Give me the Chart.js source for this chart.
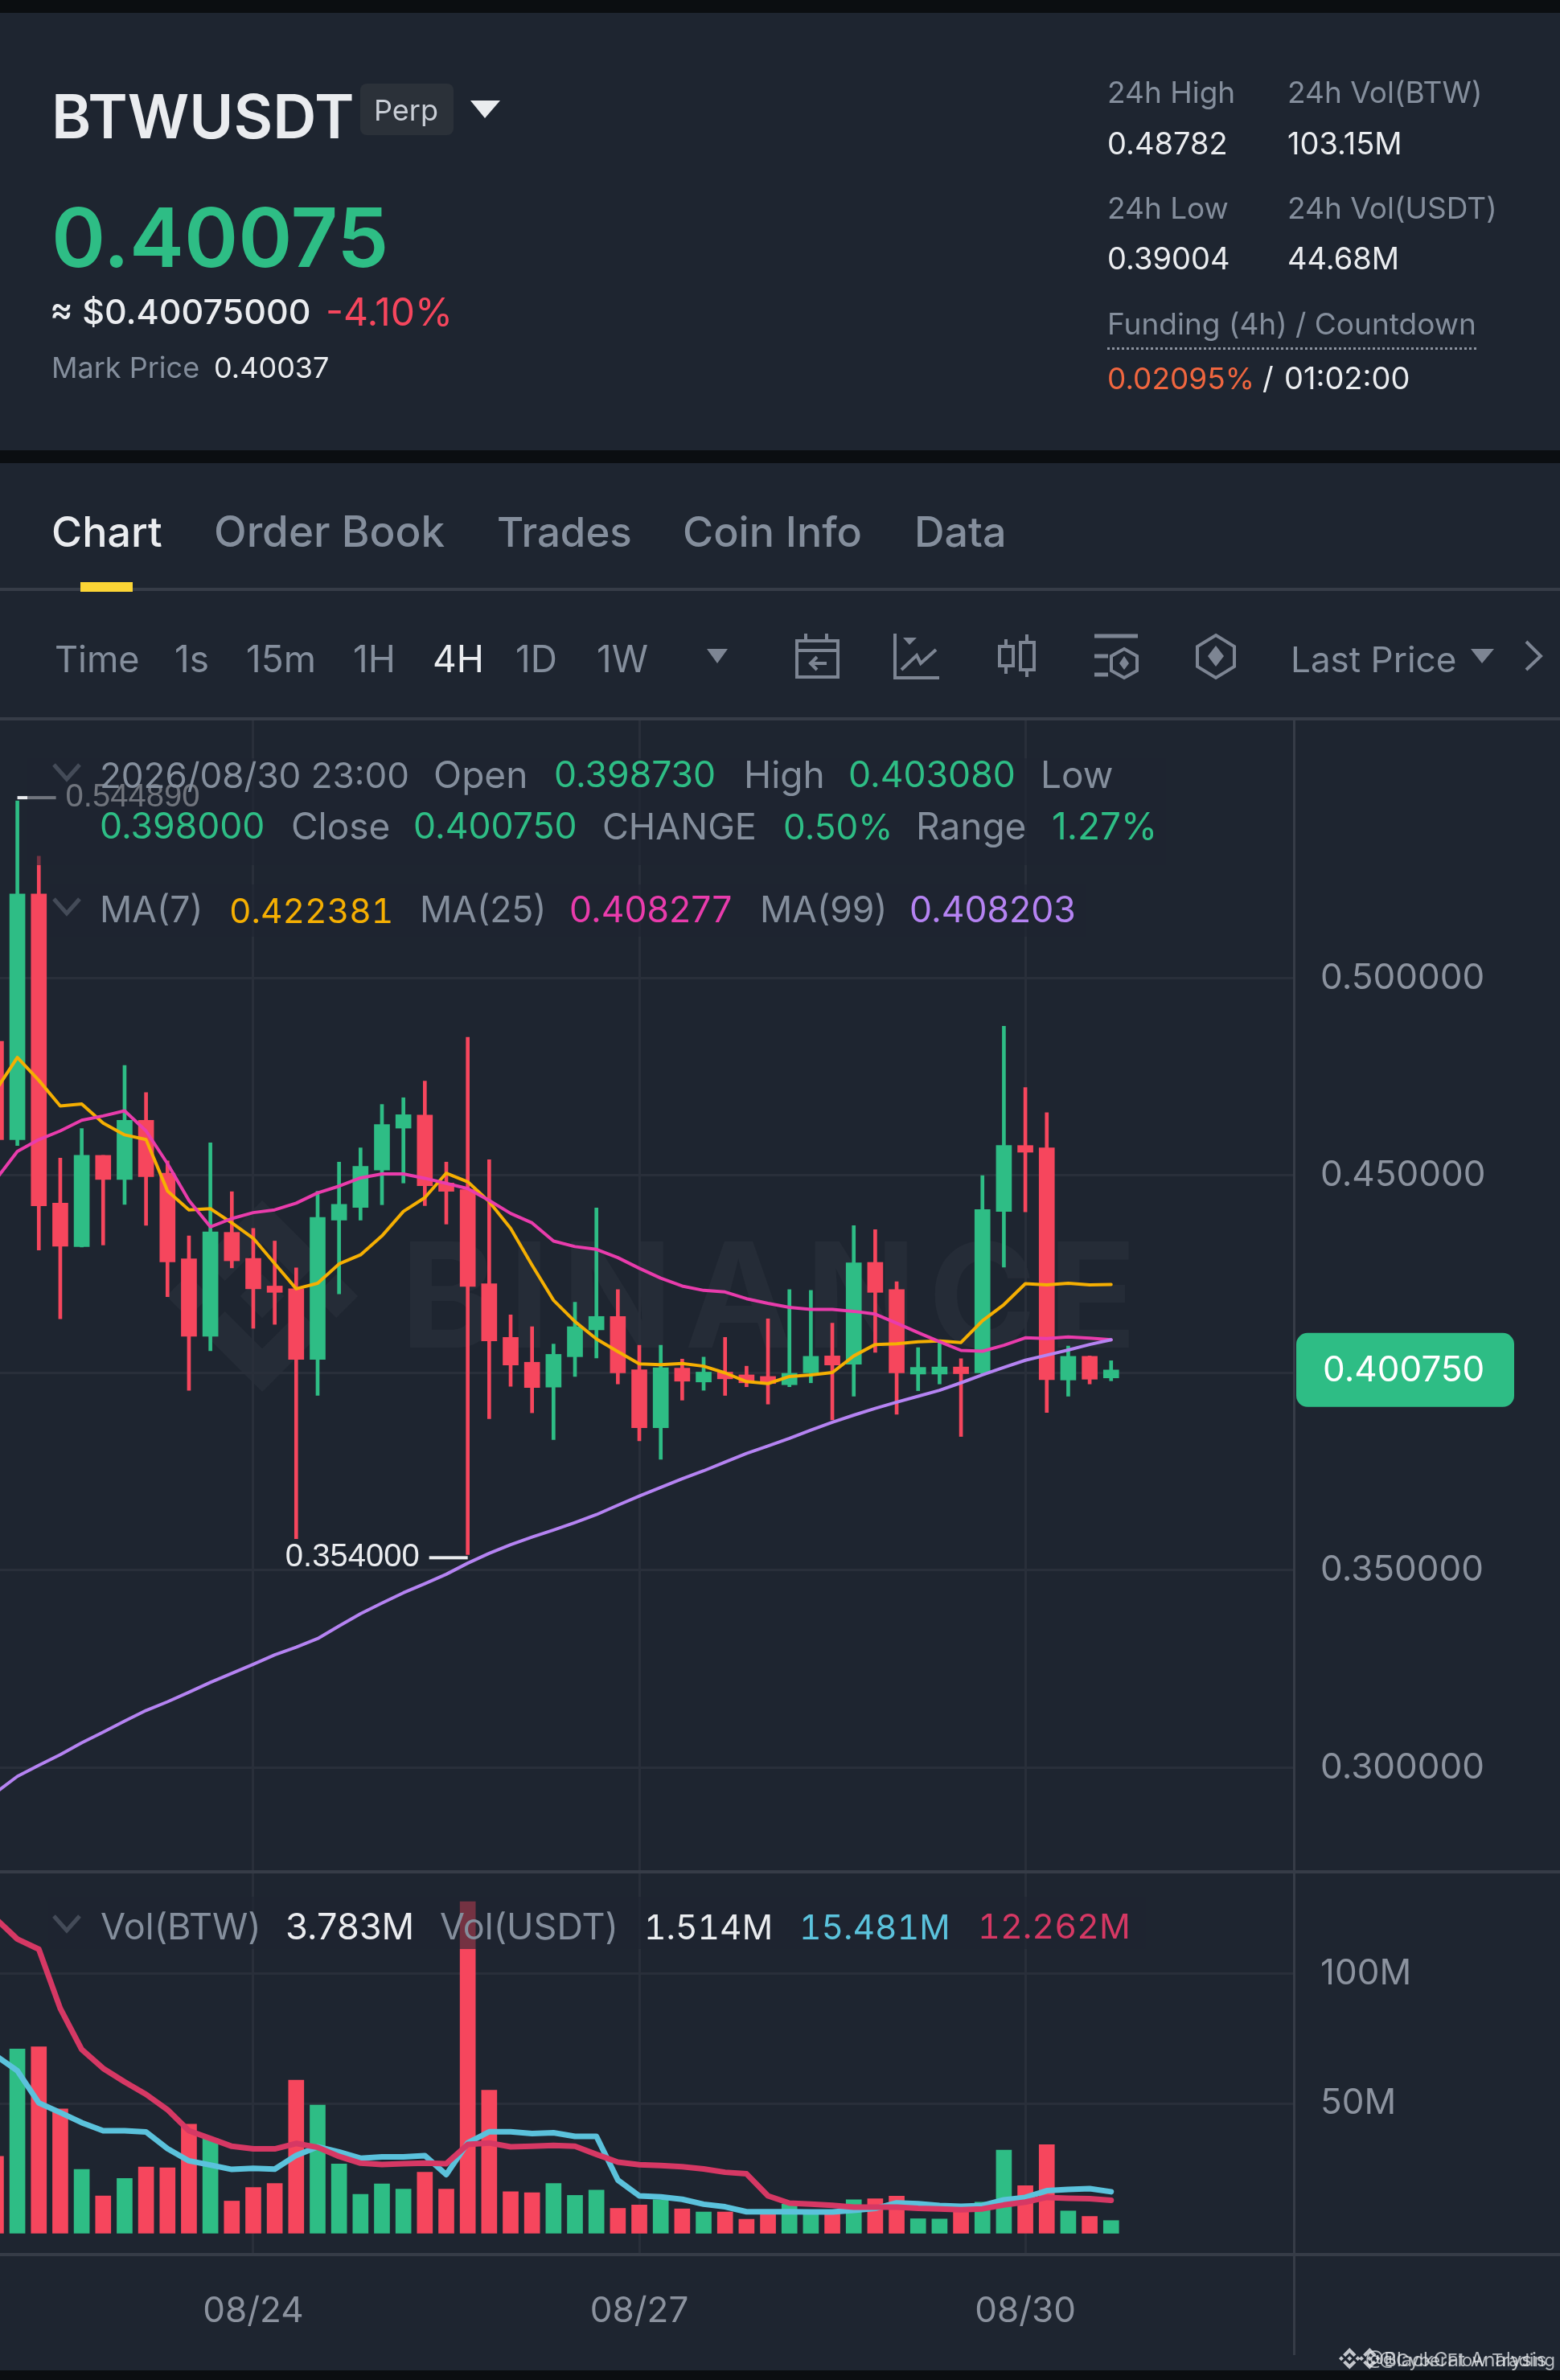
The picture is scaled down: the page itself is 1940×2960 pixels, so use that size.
<!DOCTYPE html>
<html>
<head>
<meta charset="utf-8">
<title>BTWUSDT</title>
<script src="https://cdn.jsdelivr.net/npm/chart.js@4"></script>
<style>
  html, body { margin: 0; padding: 0; background: #1e2530; }
  body { position: relative; width: 1940px; height: 2960px; overflow: hidden; font-family: Inter, "Noto Sans", sans-serif; }
  .t { position: absolute; white-space: pre; transform: translateY(-50%); line-height: 1.2; }
  .bar { position: absolute; }
  #chartWrap { position: absolute; left: 0; top: 894px; width: 1940px; height: 2054px; z-index: 2; }
  #overlay { position: absolute; left: 0; top: 0; z-index: 3; }
  #mark { position: absolute; left: 0; top: 0; z-index: 1; }
</style>
</head>
<body>
<svg id="mark" width="1940" height="2960">
  <defs>
    <path id="logo" d="M38.73 53.2l24.59-24.58 24.6 24.6 14.3-14.31L63.32 0 24.43 38.9zM0 63.31l14.3-14.31 14.31 14.31-14.31 14.3zM38.73 73.41L63.32 98l24.6-24.6 14.31 14.29-38.9 38.91-38.91-38.88zM98 63.31l14.3-14.31 14.31 14.3-14.31 14.32zM77.83 63.3L63.32 48.78 52.59 59.51l-1.24 1.23-2.54 2.54 14.51 14.5 14.51-14.47z"/>
  </defs>
  <use href="#logo" transform="translate(207 1493) scale(1.88)" fill="#ffffff" fill-opacity="0.035"/>
</svg>
<div id="chartWrap"><canvas id="chart" width="1940" height="2054"></canvas></div>
<svg id="overlay" width="1940" height="2960">
  <g fill="#7d8593" stroke="none">
    <polygon points="585,125 622,125 603,147" fill="#eaecef"/>
    <polygon points="879,807 905,807 892,825"/>
    <polygon points="1829,807 1858,807 1843,825"/>
    <polygon points="1123,793 1140,793 1131,802"/>
    <polygon points="1512,829 1502,816 1512,803 1522,816"/>
    <polygon points="1398,833 1392,825 1398,816 1404,825"/>
  </g>
  <g fill="none" stroke="#7d8593" stroke-width="4">
    <rect x="991" y="797" width="51" height="45"/>
    <path d="M991 809H1042M1002 788V797M1028 788V797M1028 825H1008M1016 817L1008 825L1016 833"/>
    <path d="M1113 788V843H1168M1121 833L1140 815L1145 825L1164 808"/>
    <rect x="1243" y="804" width="17" height="24"/>
    <rect x="1269" y="799" width="17" height="34"/>
    <path d="M1251 795V804M1251 828V838M1277 789V799M1277 833V842"/>
    <path d="M1361 791H1415M1361 816H1378M1361 839H1378" stroke-width="5"/>
    <polygon points="1398,807 1414,816 1414,834 1398,843 1382,834 1382,816"/>
    <polygon points="1512,790 1535,804 1535,829 1512,843 1489,829 1489,804"/>
    <path d="M1898 798L1916 816L1898 833"/>
    <path d="M67 951L83 969L99 951M67 1118L83 1136L99 1118M67 2383L83 2401L99 2383" stroke="#7d8593" stroke-width="5"/>
  </g>
  <g fill="#dfe2e6" fill-opacity="0.85">
    <use href="#logo" transform="translate(1665 2920) scale(0.21)"/>
    <use href="#logo" transform="translate(1690 2920) scale(0.21)"/>
  </g>
</svg>
<script>
// Candles, oldest first. The first one is cut by the left edge of the chart
const firstIndex = -1;
const opens = [0.4840,0.4591,0.5213,0.4430,0.4320,0.4551,0.4490,0.4640,0.4506,0.4289,0.4093,0.4356,0.4290,0.4220,0.4213,0.4034,0.4387,0.4419,0.4514,0.4620,0.4653,0.4481,0.4464,0.4226,0.4090,0.4027,0.3964,0.4041,0.4109,0.4143,0.4008,0.3861,0.4012,0.3977,0.4002,0.3995,0.3991,0.3970,0.4000,0.4043,0.4022,0.4280,0.4211,0.3997,0.3997,0.4015,0.4000,0.4409,0.4576,0.4570,0.3982,0.4042,0.39873];
const highs = [0.4900,0.54489,0.5309,0.4544,0.4619,0.4551,0.4779,0.4710,0.4537,0.4347,0.4583,0.4459,0.4366,0.4334,0.4266,0.4460,0.4534,0.4570,0.4680,0.4697,0.4739,0.4534,0.4850,0.4540,0.4147,0.4117,0.4073,0.4179,0.4418,0.4211,0.4070,0.4070,0.4035,0.4040,0.4090,0.4017,0.4137,0.4211,0.4209,0.4126,0.4373,0.4363,0.4231,0.4064,0.4079,0.4036,0.4500,0.4878,0.4723,0.4659,0.4068,0.4043,0.40308];
const lows = [0.4500,0.4576,0.4311,0.4137,0.4319,0.4324,0.4427,0.4374,0.4193,0.3956,0.4056,0.4266,0.4113,0.4123,0.3580,0.3943,0.4200,0.4387,0.4426,0.4481,0.4424,0.4377,0.3540,0.3884,0.3966,0.3899,0.3831,0.3991,0.4038,0.3972,0.3828,0.3781,0.3931,0.3956,0.3943,0.3965,0.3921,0.3965,0.3975,0.3881,0.3941,0.4052,0.3895,0.3955,0.3972,0.3839,0.3997,0.4268,0.4408,0.3900,0.3941,0.3972,0.3980];
const closes = [0.4591,0.5213,0.4423,0.4321,0.4551,0.4490,0.4640,0.4497,0.4281,0.4093,0.4357,0.4284,0.4213,0.4204,0.4034,0.4394,0.4427,0.4523,0.4629,0.4654,0.4474,0.4460,0.4219,0.4081,0.4020,0.3963,0.4047,0.4117,0.4143,0.4000,0.3861,0.4013,0.3979,0.4002,0.3985,0.3975,0.3973,0.3999,0.4042,0.4020,0.4279,0.4204,0.4000,0.4014,0.4015,0.3998,0.4414,0.4576,0.4559,0.3983,0.4042,0.3984,0.40075];

const ma7 = [0.4716,0.4799,0.4741,0.4676,0.4681,0.4633,0.4603,0.4591,0.4461,0.4413,0.4416,0.4380,0.4341,0.4277,0.4213,0.4227,0.4276,0.4299,0.4347,0.4409,0.4444,0.4506,0.4484,0.4434,0.4366,0.4273,0.4184,0.4130,0.4086,0.4054,0.4023,0.4021,0.4024,0.4017,0.4000,0.3978,0.3973,0.3991,0.3995,0.4001,0.4043,0.4072,0.4074,0.4079,0.4081,0.4077,0.4132,0.4173,0.4226,0.4223,0.4227,0.4223,0.4224];
const ma25 = [0.4490,0.4561,0.4591,0.4613,0.4640,0.4651,0.4664,0.4613,0.4530,0.4437,0.4370,0.4391,0.4406,0.4413,0.4430,0.4456,0.4473,0.4494,0.4504,0.4504,0.4493,0.4480,0.4467,0.4437,0.4404,0.4380,0.4334,0.4320,0.4313,0.4292,0.4265,0.4240,0.4220,0.4209,0.4205,0.4188,0.4176,0.4166,0.4161,0.4161,0.4156,0.4149,0.4126,0.4102,0.4079,0.4057,0.4055,0.4070,0.4089,0.4087,0.4091,0.4088,0.4084];
const ma99 = [0.2937,0.2978,0.3006,0.3033,0.3063,0.3090,0.3118,0.3145,0.3167,0.3191,0.3216,0.3239,0.3262,0.3286,0.3305,0.3327,0.3359,0.3390,0.3417,0.3443,0.3466,0.3490,0.3518,0.3543,0.3565,0.3584,0.3602,0.3621,0.3641,0.3665,0.3688,0.3710,0.3732,0.3752,0.3774,0.3796,0.3815,0.3834,0.3855,0.3875,0.3893,0.3910,0.3926,0.3941,0.3956,0.3975,0.3995,0.4014,0.4032,0.4045,0.4058,0.4072,0.4084];

// Volume in millions
const volumes = [29.6,71.0,71.8,47.9,24.6,14.4,21.1,25.5,25.2,42.0,36.5,12.4,17.6,19.2,59.0,49.4,26.7,15.0,19.0,17.0,23.5,17.0,127.7,55.1,16.0,15.6,19.2,14.6,16.6,9.6,10.9,12.9,9.4,8.2,8.2,5.4,7.2,11.2,8.0,8.0,12.9,13.3,14.3,5.6,5.5,8.5,12.0,32.0,18.3,34.1,8.6,6.5,4.9];
const volShort = [68.4,62.6,50.2,46.5,42.6,39.5,39.5,39.0,32.6,27.9,26.3,24.6,25.0,24.7,30.0,33.3,31.3,28.9,29.4,29.4,29.9,22.6,34.8,39.1,39.1,38.4,38.7,37.3,37.3,20.5,14.4,14.0,13.1,11.2,10.2,8.3,8.3,8.3,8.2,8.2,8.8,9.6,11.7,11.4,10.7,10.4,10.7,12.9,13.8,16.4,16.9,17.2,16.0];
const volLong = [121.1,113.3,109.4,86.6,70.8,63.5,58.3,53.5,47.6,39.5,36.5,33.5,32.5,32.5,34.6,33.1,29.6,27.0,26.5,26.8,27.0,26.8,34.2,34.8,33.3,33.5,33.8,33.5,30.4,27.4,26.4,26.1,25.6,24.8,23.5,22.9,14.4,11.6,11.2,10.8,10.1,10.1,10.1,9.6,9.4,9.1,9.4,10.9,12.0,13.8,13.5,13.3,12.7];

// Axes
const dateTicks = [11, 29, 47];
const dateLabels = ["08/24", "08/27", "08/30"];
const priceTicks = [0.3, 0.35, 0.4, 0.45, 0.5];
const volTicks = [50, 100];
const lastPrice = 0.40075;

const GREEN = "#2ebd85", RED = "#f6465d", GRID = "#292f3a", AXIS_TEXT = "#8b929e", LINE = "#363c47";
const WHITE = "#eaecef", GREY = "#848e9c", ORANGE = "#f5af02", PINK = "#e93cac", PURPLE = "#b583f2";

// Text helper, y is the middle of the capitals
function txt(str, x, y, size, color, weight) {
  const d = document.createElement("div");
  d.className = "t";
  d.textContent = str;
  d.style.cssText = `left:${x}px;top:${y}px;font-size:${size}px;color:${color};font-weight:${weight || 400};z-index:5`;
  document.body.appendChild(d);
  return d;
}
// Same, with a full width "1" as in the original font
function wideOnes(str, x, y, size, color) {
  txt(str, x, y, size, color).style.fontVariantNumeric = "tabular-nums";
}
function box(x, y, w, h, color, radius, z) {
  const d = document.createElement("div");
  d.className = "bar";
  d.style.cssText = `left:${x}px;top:${y}px;width:${w}px;height:${h}px;background:${color};border-radius:${radius || 0}px;z-index:${z || 4}`;
  document.body.appendChild(d);
  return d;
}

// Black bands and separators
box(0, 0, 1940, 16, "#0b0e11");
box(0, 560, 1940, 16, "#0b0e11");
box(0, 2948, 1940, 12, "#0b0e11");
box(0, 731, 1940, 4, LINE);
box(100, 724, 65, 12, "#fcd535");
box(0, 892, 1940, 4, LINE);
box(0, 2326, 1940, 4, LINE);
box(0, 2802, 1940, 4, LINE);
box(1608, 894, 3, 2035, LINE);

// Header
txt("BTWUSDT", 64, 145, 75, WHITE, 600);
box(448, 104, 116, 64, "#2b3139", 8);
txt("Perp", 465, 138, 36, "#c9ced6");
txt("0.40075", 64, 295, 102, GREEN, 600);
txt("≈ $0.40075000", 62, 388, 43, WHITE, 500);
txt("-4.10%", 405, 388, 48, RED);
txt("Mark Price", 64, 458, 36, GREY);
txt("0.40037", 266, 458, 36, WHITE);

txt("24h High", 1377, 115, 37, GREY);
txt("24h Vol(BTW)", 1601, 115, 37, GREY);
txt("0.48782", 1377, 179, 38, WHITE);
txt("103.15M", 1601, 179, 38, WHITE);
txt("24h Low", 1377, 259, 37, GREY);
txt("24h Vol(USDT)", 1601, 259, 37, GREY);
txt("0.39004", 1377, 322, 38, WHITE);
txt("44.68M", 1601, 322, 38, WHITE);
txt("Funding (4h) / Countdown", 1377, 403, 37, GREY);
box(1377, 432, 459, 0, "transparent").style.borderTop = "3px dotted #8b929e";
txt("0.02095%", 1377, 471, 37, "#f0663f");
txt("/", 1570, 471, 38, WHITE);
txt("01:02:00", 1597, 471, 38, WHITE);

// Tabs and toolbar
txt("Chart", 64, 662, 52, WHITE, 500);
txt("Order Book", 266, 662, 53, GREY, 500);
txt("Trades", 618, 662, 51, GREY, 500);
txt("Coin Info", 849, 662, 52, GREY, 500);
txt("Data", 1137, 662, 52, GREY, 500);

const frames = [["Time", 68], ["1s", 217], ["15m", 306], ["1H", 439], ["4H", 538], ["1D", 641], ["1W", 742]];
frames.forEach(f => txt(f[0], f[1], 820, f[0] === "Time" ? 45 : 46, f[0] === "4H" ? WHITE : GREY));
txt("Last Price", 1605, 820, 44, GREY);

// Legend backplates dim whatever is under them
const plate = "rgba(30,37,48,0.6)";
box(34, 943, 1416, 133, plate);
box(60, 1100, 1290, 65, plate);
box(60, 2359, 1365, 65, plate);

[["2026/08/30 23:00", 124, GREY, 44], ["Open", 539, GREY, 46], ["0.398730", 689, GREEN, 44.5], ["High", 925, GREY, 46], ["0.403080", 1055, GREEN, 44.5], ["Low", 1294, GREY, 46]]
  .forEach(r => txt(r[0], r[1], 964, r[3], r[2]));
[["0.398000", 124, GREEN, 44.5], ["Close", 362, GREY, 46], ["0.400750", 514, GREEN, 44.5], ["CHANGE", 749, GREY, 45], ["0.50%", 974, GREEN, 44], ["Range", 1139, GREY, 46], ["1.27%", 1308, GREEN, 46]]
  .forEach(r => txt(r[0], r[1], 1028, r[3], r[2]));
[["MA(7)", 124, GREY], ["MA(25)", 522, GREY], ["0.408277", 708, PINK], ["MA(99)", 945, GREY], ["0.408203", 1131, PURPLE]]
  .forEach(r => txt(r[0], r[1], 1132, 44.5, r[2]));
wideOnes("0.422381", 285, 1132, 42.5, ORANGE);
[["Vol(BTW)", 125, GREY], ["3.783M", 355, WHITE], ["Vol(USDT)", 547, GREY]]
  .forEach(r => txt(r[0], r[1], 2396, 45, r[2]));
wideOnes("1.514M", 801, 2396, 42.5, WHITE);
wideOnes("15.481M", 994, 2396, 42.5, "#5bc2dc");
wideOnes("12.262M", 1216, 2396, 43, "#d63864");

// Watermarks
const wm = txt("BINANCE", 498, 1611, 181, "rgba(255,255,255,0.035)", 700);
wm.style.zIndex = 1;
wm.style.letterSpacing = "15px";
txt("@CyberFlow Trading", 1715, 2935, 22, "rgba(234,236,239,0.75)");
txt("@BlackCat Analysis", 1698, 2935, 24, "rgba(234,236,239,0.75)");

function points(values) {
  return values.map((v, n) => ({ x: n + firstIndex, y: v }));
}
function candleColors() {
  return closes.map((c, n) => (c >= opens[n] ? GREEN : RED));
}
function maLine(values, color, width, axis, order) {
  return {
    type: "line", data: points(values), yAxisID: axis, order: order,
    borderColor: color, borderWidth: width, pointRadius: 0, tension: 0,
    borderJoinStyle: "round", borderCapStyle: "round"
  };
}
// Stops the layout from reserving room for half a tick label
function noPadding(s) {
  s.paddingTop = 0; s.paddingBottom = 0; s.paddingLeft = 0; s.paddingRight = 0;
}

// High and low markers and the last price tag
const extrasPlugin = {
  id: "extras",
  afterDatasetsDraw(chart) {
    const c = chart.ctx, xs = chart.scales.x, ys = chart.scales.y;
    const maxHigh = Math.max(...highs), minLow = Math.min(...lows);
    const hx = xs.getPixelForValue(highs.indexOf(maxHigh) + firstIndex);
    const lx = xs.getPixelForValue(lows.indexOf(minLow) + firstIndex);
    const hy = ys.getPixelForValue(maxHigh) - 4, ly = ys.getPixelForValue(minLow) + 4;
    c.save();
    c.fillStyle = WHITE;
    c.fillRect(hx, hy - 2, 48, 4);
    c.fillRect(lx - 48, ly - 2, 48, 4);
    c.font = "40px 'Liberation Sans'";
    c.textBaseline = "middle";
    c.textAlign = "left";
    c.fillText(maxHigh.toFixed(6), hx + 60, hy);
    c.textAlign = "right";
    c.fillText(minLow.toFixed(6), lx - 60, ly);
    const py = ys.getPixelForValue(lastPrice);
    c.fillStyle = GREEN;
    c.beginPath();
    c.roundRect(1612, py - 46, 271, 92, 14);
    c.fill();
    c.fillStyle = "#ffffff";
    c.font = "44px Inter";
    c.textAlign = "left";
    c.fillText(lastPrice.toFixed(6), 1645, py + 1);
    c.restore();
  }
};

new Chart(document.getElementById("chart"), {
  data: {
    datasets: [
      { type: "bar", data: points(lows.map((v, n) => [v, highs[n]])), yAxisID: "y", order: 6, grouped: false, barThickness: 4, backgroundColor: candleColors() },
      { type: "bar", data: points(opens.map((v, n) => [v, closes[n]])), yAxisID: "y", order: 5, grouped: false, barThickness: 19, backgroundColor: candleColors() },
      maLine(ma7, ORANGE, 4, "y", 4),
      maLine(ma25, PINK, 4, "y", 3),
      maLine(ma99, PURPLE, 4, "y", 2),
      { type: "bar", data: points(volumes), yAxisID: "yVol", order: 6, grouped: false, barThickness: 19, backgroundColor: candleColors() },
      maLine(volShort, "#5bc2dc", 7, "yVol", 2),
      maLine(volLong, "#d63864", 7, "yVol", 1)
    ]
  },
  options: {
    responsive: false,
    animation: false,
    devicePixelRatio: 1,
    layout: { padding: 0 },
    plugins: { legend: { display: false }, tooltip: { enabled: false } },
    scales: {
      x: {
        type: "linear", min: -0.81, max: 59.52, offset: false,
        grid: { color: GRID, lineWidth: 3, drawTicks: false, offset: false },
        border: { display: false },
        afterBuildTicks: s => { s.ticks = dateTicks.map(v => ({ value: v })); },
        afterFit: s => { s.height = 144; noPadding(s); },
        ticks: {
          autoSkip: false, maxRotation: 0, padding: 44, color: AXIS_TEXT,
          font: { family: "Inter", size: 44 },
          callback: v => dateLabels[dateTicks.indexOf(v)]
        }
      },
      y: {
        type: "linear", position: "right", stack: "panes", stackWeight: 1434,
        min: 0.27362, max: 0.56568,
        grid: { color: GRID, lineWidth: 3, drawTicks: false },
        border: { display: false },
        afterBuildTicks: s => { s.ticks = priceTicks.map(v => ({ value: v })); },
        afterFit: s => { s.width = 331; noPadding(s); },
        ticks: {
          padding: 33, labelOffset: 0, color: AXIS_TEXT,
          font: { family: "Inter", size: 44 },
          callback: v => v.toFixed(6)
        }
      },
      yVol: {
        type: "linear", position: "right", stack: "panes", stackWeight: 476,
        min: -8.2, max: 139.2,
        grid: { color: GRID, lineWidth: 3, drawTicks: false },
        border: { display: false },
        afterBuildTicks: s => { s.ticks = volTicks.map(v => ({ value: v })); },
        afterFit: s => { s.width = 331; noPadding(s); },
        ticks: {
          padding: 33, labelOffset: 0, color: AXIS_TEXT,
          font: { family: "Inter", size: 44 },
          callback: v => v + "M"
        }
      }
    }
  },
  plugins: [extrasPlugin]
});
</script>
</body>
</html>
